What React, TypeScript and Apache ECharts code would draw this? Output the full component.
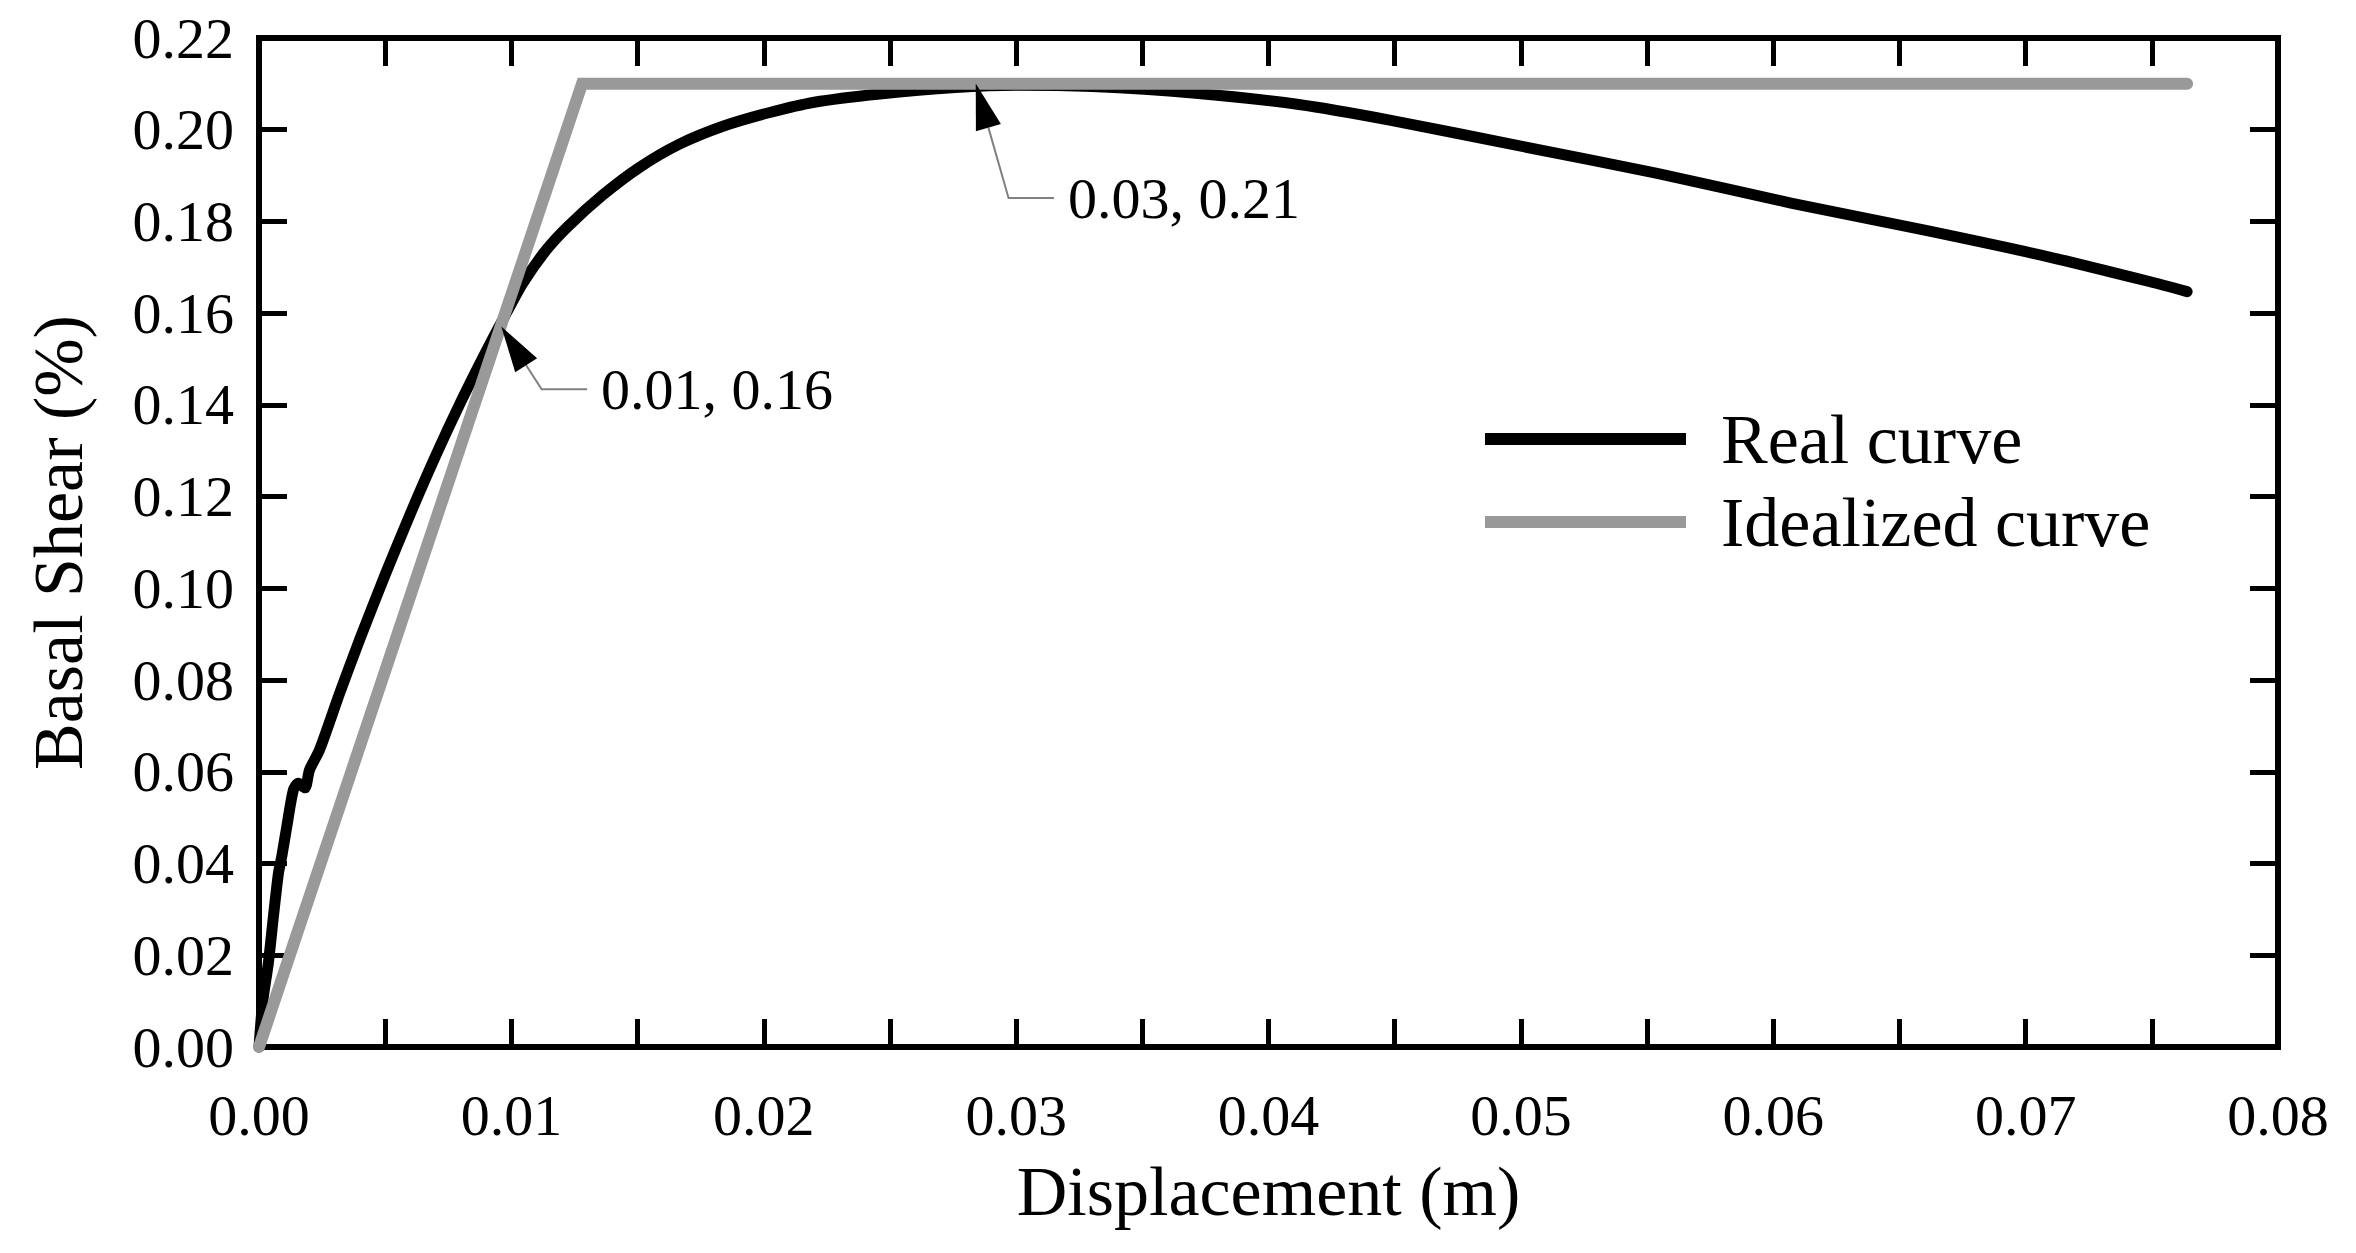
import React, { useEffect, useRef } from "react";
import * as echarts from "echarts";

// ---- data ----
const realX = [0, 0.00015, 0.00037, 0.00057, 0.00077, 0.0009, 0.0011, 0.00136, 0.00156, 0.00182, 0.002, 0.0024, 0.0032, 0.004, 0.005, 0.006, 0.007, 0.008, 0.009, 0.0097, 0.01045, 0.01134, 0.01222, 0.01363, 0.01505, 0.01664, 0.01841, 0.0202, 0.022, 0.0246, 0.0276, 0.03, 0.033, 0.037, 0.0412, 0.0448, 0.0501, 0.0554, 0.0607, 0.066, 0.0709, 0.0749, 0.0764];
const realY = [0, 0.01, 0.0183, 0.0284, 0.0379, 0.0415, 0.048, 0.056, 0.0575, 0.0565, 0.0604, 0.0648, 0.0772, 0.089, 0.103, 0.1163, 0.1289, 0.1407, 0.1517, 0.159, 0.1665, 0.1735, 0.1788, 0.1858, 0.1917, 0.1968, 0.2008, 0.2037, 0.206, 0.2078, 0.2092, 0.2097, 0.2094, 0.208, 0.2055, 0.2021, 0.1963, 0.1905, 0.184, 0.1781, 0.1723, 0.1669, 0.1647];

const idealX = [0, 0.0128, 0.0764];
const idealY = [0, 0.21, 0.21];

const seriesNames = ["Real curve", "Idealized curve"];

// annotations: arrow tip, leader elbow, leader end, label
const annTipX = [0.0096, 0.0284];
const annTipY = [0.1571, 0.2101];
const annElbowX = [0.0112, 0.0297];
const annElbowY = [0.1434, 0.1851];
const annEndX = [0.013, 0.0315];
const annLabels = ["0.01, 0.16", "0.03, 0.21"];

const xMin = 0, xMax = 0.08, xStep = 0.01;
const yMin = 0, yMax = 0.22, yStep = 0.02;

const FONT = '"Liberation Serif", "Times New Roman", serif';

export default function App() {
  const ref = useRef<HTMLDivElement>(null);

  useEffect(() => {
    if (!ref.current) return;
    const chart = echarts.init(ref.current, undefined, { renderer: "svg" });

    const axisLine = { show: true, onZero: false, lineStyle: { color: "#000", width: 6, cap: "square" } };
    const tick = { show: true, inside: true, length: 28, lineStyle: { color: "#000", width: 5 } };
    const minor = { show: true, splitNumber: 2, length: 28, lineStyle: { color: "#000", width: 5 } };

    const annData = annTipX.map((x, i) => [x, annTipY[i], annElbowX[i], annElbowY[i], annEndX[i]]);

    const option: any = {
      animation: false,
      backgroundColor: "#fff",
      grid: { left: 259, right: 78, top: 38, bottom: 206, containLabel: false },
      legend: {
        data: seriesNames,
        orient: "vertical",
        left: 1480,
        top: 399,
        itemWidth: 201,
        itemHeight: 12,
        itemGap: 13,
        icon: "rect",
        itemStyle: { borderWidth: 0 },
        textStyle: { fontFamily: FONT, fontSize: 70, color: "#000", lineHeight: 70, padding: [0, 0, 0, 30] },
        selectedMode: false,
      },
      xAxis: [
        {
          type: "value",
          position: "bottom",
          min: xMin,
          max: xMax,
          interval: xStep,
          axisLine,
          axisTick: tick,
          minorTick: minor,
          splitLine: { show: false },
          axisLabel: {
            margin: 39,
            fontFamily: FONT,
            fontSize: 58,
            color: "#000",
            formatter: (v: number) => v.toFixed(2),
          },
          name: "Displacement (m)",
          nameLocation: "middle",
          nameGap: 109,
          nameTextStyle: { fontFamily: FONT, fontSize: 70, color: "#000" },
        },
        {
          type: "value",
          position: "top",
          min: xMin,
          max: xMax,
          interval: xStep,
          axisLine,
          axisTick: tick,
          minorTick: minor,
          splitLine: { show: false },
          axisLabel: { show: false },
        },
      ],
      yAxis: [
        {
          type: "value",
          position: "left",
          min: yMin,
          max: yMax,
          interval: yStep,
          axisLine,
          axisTick: tick,
          splitLine: { show: false },
          axisLabel: {
            margin: 25,
            fontFamily: FONT,
            fontSize: 58,
            color: "#000",
            formatter: (v: number) => v.toFixed(2),
          },
          name: "Basal Shear (%)",
          nameLocation: "middle",
          nameGap: 166,
          nameTextStyle: { fontFamily: FONT, fontSize: 70, color: "#000" },
        },
        {
          type: "value",
          position: "right",
          min: yMin,
          max: yMax,
          interval: yStep,
          axisLine,
          axisTick: tick,
          splitLine: { show: false },
          axisLabel: { show: false },
        },
      ],
      series: [
        {
          name: seriesNames[0],
          type: "line",
          data: realX.map((x, i) => [x, realY[i]]),
          showSymbol: false,
          symbol: "none",
          smooth: 0.25,
          color: "#000",
          lineStyle: { color: "#000", width: 11, cap: "round", join: "round" },
          silent: true,
        },
        {
          name: seriesNames[1],
          type: "line",
          data: idealX.map((x, i) => [x, idealY[i]]),
          showSymbol: false,
          symbol: "none",
          color: "#999999",
          lineStyle: { color: "#999999", width: 12, cap: "round", join: "miter" },
          silent: true,
        },
        {
          name: "annotations",
          type: "custom",
          silent: true,
          data: annData,
          encode: { x: [0, 2, 4], y: [1, 3] },
          z: 10,
          renderItem: (params: any, api: any) => {
            const i = params.dataIndex;
            const tip = api.coord([api.value(0), api.value(1)]);
            const elbow = api.coord([api.value(2), api.value(3)]);
            const end = api.coord([api.value(4), api.value(3)]);
            const dx = tip[0] - elbow[0];
            const dy = tip[1] - elbow[1];
            const len = Math.sqrt(dx * dx + dy * dy) || 1;
            const ux = dx / len, uy = dy / len;
            const headLen = 46, halfW = 13;
            const base = [tip[0] - ux * headLen, tip[1] - uy * headLen];
            const b1 = [base[0] - uy * halfW, base[1] + ux * halfW];
            const b2 = [base[0] + uy * halfW, base[1] - ux * halfW];
            return {
              type: "group",
              children: [
                {
                  type: "polyline",
                  shape: { points: [base, elbow, end] },
                  style: { stroke: "#808080", lineWidth: 2, fill: null },
                },
                {
                  type: "polygon",
                  shape: { points: [tip, b1, b2] },
                  style: { fill: "#000" },
                },
                {
                  type: "text",
                  style: {
                    text: annLabels[i],
                    x: end[0] + 14,
                    y: end[1],
                    align: "left",
                    verticalAlign: "middle",
                    font: `58px ${FONT}`,
                    fill: "#000",
                  },
                },
              ],
            };
          },
        },
      ],
    };

    chart.setOption(option);
    return () => chart.dispose();
  }, []);

  return (
    <div
      ref={ref}
      style={{ position: "absolute", left: 0, top: 0, width: "2356px", height: "1253px", background: "#fff" }}
    />
  );
}
